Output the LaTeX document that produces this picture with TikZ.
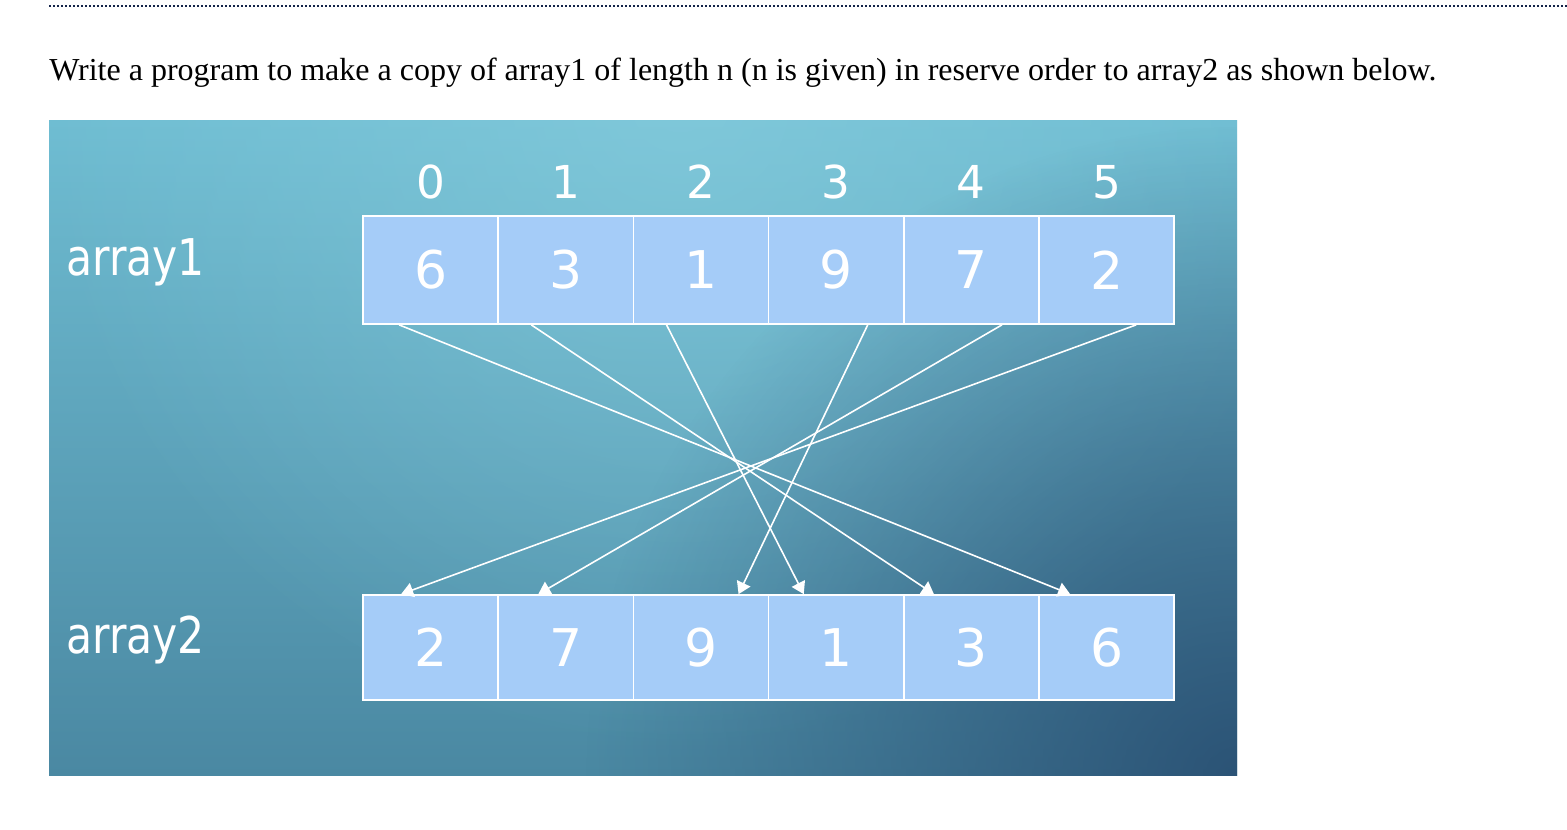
\documentclass[tikz,border=0pt]{standalone}
\usepackage{fontspec}
\setmainfont{Liberation Serif}
\newfontfamily\dvs{DejaVu Sans}
\newfontfamily\dvsn[FakeStretch=0.84]{DejaVu Sans}
\usetikzlibrary{arrows.meta,calc,fadings}
\definecolor{bgtop}{HTML}{6FBDD2}
\definecolor{bgmid}{HTML}{6AB7CD}
\definecolor{bgbot}{HTML}{4A88A2}
\definecolor{bgdark}{HTML}{264A6E}
\definecolor{bglight}{HTML}{8ACFDF}
\definecolor{cellblue}{HTML}{A5CCF8}
\definecolor{dotnavy}{HTML}{14244A}
\tikzfading[name=radfade, inner color=transparent!0, outer color=transparent!100]
\tikzset{
  cell/.style={draw=white, line width=1.3pt, fill=cellblue, minimum width=101.4pt,
    inner sep=0pt, text=white, font=\dvs\fontsize{39}{39}\selectfont},
  idx/.style={anchor=base, inner sep=0pt, text=white, font=\dvs\fontsize{34}{34}\selectfont},
  lab/.style={anchor=base west, inner sep=0pt, text=white, font=\dvsn\fontsize{38}{38}\selectfont},
  arr/.style={draw=white, line width=1.2pt, -{Triangle[length=9pt,width=11pt]}},
  dotline/.style={draw=dotnavy, line width=2pt, dash pattern=on 1.5pt off 1.5pt}
}
\begin{document}
\begin{tikzpicture}[x=0.75pt,y=-0.75pt]
\useasboundingbox (0,0) rectangle (1567,829);
\fill[white] (0,0) rectangle (1567,829);
\draw[dotline] (49,6) -- (1567,6);
\node[anchor=base west, inner sep=0pt, font=\fontsize{24}{24}\selectfont] (title) at (49,80)
  {Write a program to make a copy of array1 of length n (n is given) in reserve order to array2 as shown below.};
\begin{scope}
  \clip (49,120) rectangle (1237,775);
  \shade[top color=bgtop, middle color=bgmid, bottom color=bgbot] (49,120) rectangle (1237,775);
  \fill[bglight, path fading=radfade, fill opacity=0.6] (680,100) circle (650);
  \fill[bgdark, path fading=radfade, fill opacity=0.85] (1237,775) circle (650);
\end{scope}
% labels
\node[lab] (l1) at (66,275) {array1};
\node[lab] (l2) at (66,653) {array2};
% top array
\foreach \v [count=\i from 0] in {6,3,1,9,7,2} {
  \node[cell, minimum height=81pt] (a\i) at (430.6+135.2*\i,270) {\v};
  \node[idx] (i\i) at (430.6+135.2*\i,198) {\i};
}
% bottom array
\foreach \v [count=\i from 0] in {2,7,9,1,3,6} {
  \node[cell, minimum height=78.75pt] (b\i) at (430.6+135.2*\i,647.5) {\v};
}
% arrows
\draw[arr] ($(a0.south west)+(37,0)$) -- ($(b5.north west)+(32,0)$);
\draw[arr] ($(a1.south west)+(34,0)$) -- ($(b4.north west)+(31,0)$);
\draw[arr] ($(a2.south west)+(34,0)$) -- ($(b3.north west)+(36,0)$);
\draw[arr] ($(a3.south west)+(100,0)$) -- ($(b2.north west)+(106,0)$);
\draw[arr] ($(a4.south west)+(99,0)$) -- ($(b1.north west)+(41,0)$);
\draw[arr] ($(a5.south west)+(98,0)$) -- ($(b0.north west)+(39,0)$);
\end{tikzpicture}
\end{document}
